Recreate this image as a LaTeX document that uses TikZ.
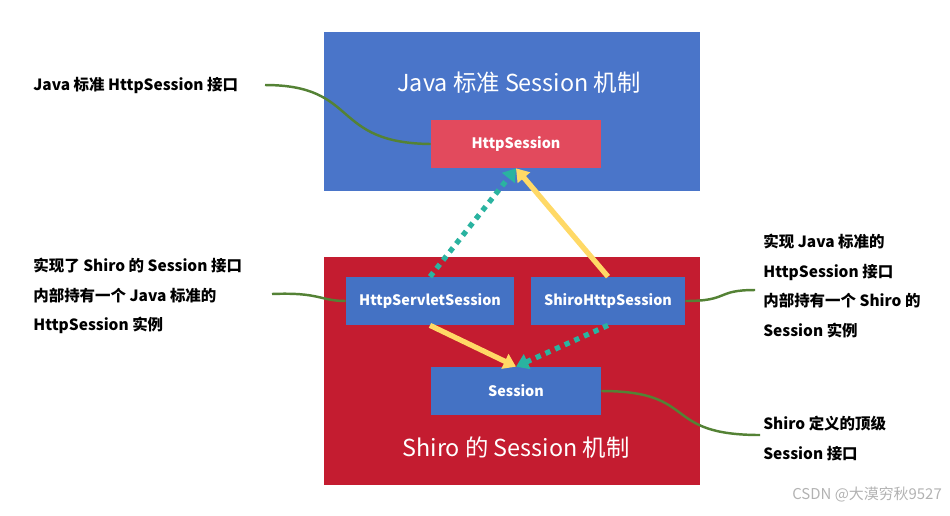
\documentclass[tikz,border=0pt]{standalone}
\usepackage{fontspec}
\setmainfont{Noto Sans CJK SC}
\usetikzlibrary{positioning,arrows.meta}
\definecolor{javablue}{HTML}{4A75C9}
\definecolor{shirored}{HTML}{C41C30}
\definecolor{boxblue}{HTML}{4472C4}
\definecolor{boxpink}{HTML}{E24A5D}
\definecolor{dotteal}{HTML}{2AB3A0}
\definecolor{solidyellow}{HTML}{FFD966}
\definecolor{noteline}{HTML}{548235}

\begin{document}
\begin{tikzpicture}[x=0.02cm,y=-0.02cm,
  cls node/.style={fill=#1,draw=none,text=white,font=\fontsize{8.2}{10}\selectfont\bfseries,
    minimum height=0.96cm,inner sep=0pt},
  title/.style={text=white,font=\fontsize{13.3}{16}\selectfont},
  note/.style={align=left,anchor=north west,font=\fontsize{8.8}{16.8}\selectfont\bfseries,inner sep=0pt},
  dotarrow/.style={dotteal,line width=3pt,dash pattern=on 3pt off 3pt,-{Triangle[length=7pt,width=9pt]}},
  solidarrow/.style={solidyellow,line width=3pt,-{Triangle[length=7pt,width=9pt]}},
  callout/.style={noteline,line width=1.4pt}]
  \useasboundingbox (0,0) rectangle (950,515);

  % areas
  \fill[javablue] (324,32) rectangle (700,191);
  \fill[shirored] (324,257) rectangle (700,485);
  \node[title] (javatitle) at (519,83) {Java 标准 Session 机制};
  \node[title] (shirotitle) at (516,448) {Shiro 的 Session 机制};

  % classes
  \node[cls node=boxpink,minimum width=3.4cm] (httpsession) at (516,144) {HttpSession};
  \node[cls node=boxblue,minimum width=3.36cm] (servletsession) at (430,301) {HttpServletSession};
  \node[cls node=boxblue,minimum width=3.08cm] (shirohttp) at (608,301) {ShiroHttpSession};
  \node[cls node=boxblue,minimum width=3.4cm] (session) at (516,391) {Session};

  % relations
  \draw[dotarrow] (servletsession.north) -- (httpsession.south);
  \draw[solidarrow] (shirohttp.north) -- (httpsession.south);
  \draw[solidarrow] (servletsession.south) -- (session.north);
  \draw[dotarrow] (shirohttp.south) -- (session.north);

  % notes
  \node[note] (note1) at (33,77) {Java 标准 HttpSession 接口};
  \node[note] (note2) at (33,258) {实现了 Shiro 的 Session 接口\\内部持有一个 Java 标准的\\HttpSession 实例};
  \node[note] (note3) at (763,234) {实现 Java 标准的\\HttpSession 接口\\内部持有一个 Shiro 的\\Session 实例};
  \node[note] (note4) at (763,416) {Shiro 定义的顶级\\Session 接口};
  \coordinate (c1) at (265,85);
  \coordinate (c2) at (272,294);
  \coordinate (c3) at (755,290);
  \coordinate (c4) at (760,435);
  \draw[callout] (c1) .. controls (360,85) and (330,143) .. (httpsession.west);
  \draw[callout] (c2) .. controls (320,292) and (320,301) .. (servletsession.west);
  \draw[callout] (shirohttp.east) .. controls (730,301) and (715,290) .. (c3);
  \draw[callout] (session.east) .. controls (700,391) and (660,435) .. (c4);

  \node[text=gray!60,font=\fontsize{8.5}{10}\selectfont,anchor=south east] (mark) at (948,508) {CSDN @大漠穷秋9527};
\end{tikzpicture}
\end{document}
